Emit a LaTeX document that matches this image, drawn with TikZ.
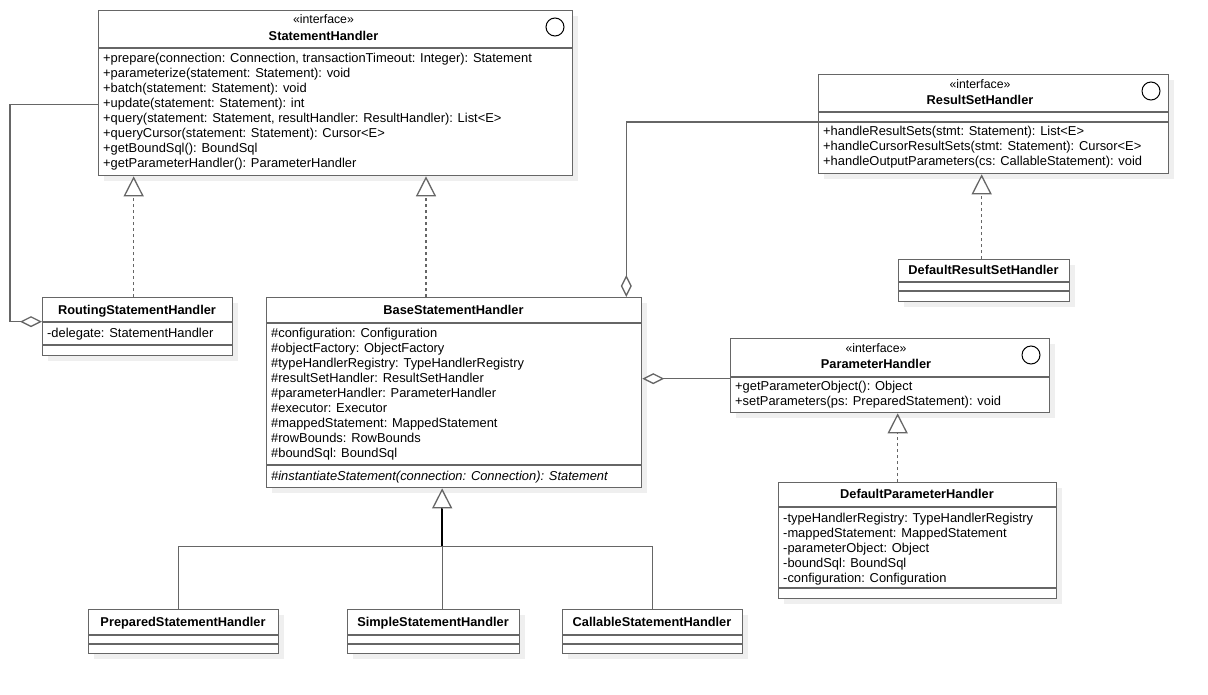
\documentclass[tikz,border=0pt]{standalone}
\usepackage{fontspec}
\setmainfont{Liberation Sans}
\usetikzlibrary{arrows.meta}
\definecolor{linec}{HTML}{666666}
\definecolor{shadowc}{HTML}{EFEFEF}
\tikzset{
  classbox/.style={draw=linec, fill=white, line width=1.3pt, inner sep=0, anchor=north west},
  sepline/.style={draw=linec, line width=1.3pt},
  txt/.style={inner sep=0, anchor=base west, font=\fontsize{12.9}{14}\selectfont},
  stereo/.style={inner sep=0, anchor=base, font=\fontsize{12.3}{13}\selectfont},
  cname/.style={inner sep=0, anchor=base, font=\bfseries\fontsize{12.8}{14}\selectfont},
  icon/.style={draw=black, circle, minimum size=18pt, inner sep=0, line width=1pt},
  realize/.style={draw=linec, line width=1.3pt, dash pattern=on 3pt off 3pt, -{Triangle[open, length=20pt, width=20pt, line width=1.3pt]}},
  aggr/.style={draw=linec, line width=1.3pt, -{Diamond[open, length=22pt, width=11pt, line width=1.3pt]}},
  inheritc/.style={draw=black, line width=2pt},
  inherittip/.style={draw=linec, line width=1.3pt, -{Triangle[open, length=20pt, width=20pt, line width=1.3pt]}},
  tree/.style={draw=linec, line width=1.3pt},
}
\newcommand\classbox[5]{%
  \fill[shadowc] (#2+6,#3+6) rectangle (#4+6,#5+6);
  \node[classbox, minimum width={(#4-#2)*1pt}, minimum height={(#5-#3)*1pt}] (#1) at (#2,#3) {};}
\newcommand\sepat[3]{\draw[sepline] (#1,#3) -- (#2,#3);}
\newcommand\textlines[4]{%
  \foreach \t [count=\i] in {#4} {\node[txt] (#1-\i) at (#2,{#3+(\i-1)*15}) {\t};}}
\begin{document}
\begin{tikzpicture}[x=1pt,y=-1pt]
\useasboundingbox (0,0) rectangle (1208,694);
\fill[white] (0,0) rectangle (1208,694);

% StatementHandler
\classbox{sh}{98}{10}{572}{175}
\sepat{98}{572}{48}
\node[stereo] (sh-st) at (323.5,23.5) {«interface»};
\node[cname] (sh-name) at (323.5,40) {StatementHandler};
\node[icon] (sh-icon) at (555,27) {};
\textlines{sh}{103}{62.5}{{+prepare(connection: Connection, transactionTimeout: Integer): Statement},{+parameterize(statement: Statement): void},{+batch(statement: Statement): void},{+update(statement: Statement): int},{+query(statement: Statement, resultHandler: ResultHandler): List<E>},{+queryCursor(statement: Statement): Cursor<E>},{+getBoundSql(): BoundSql},{+getParameterHandler(): ParameterHandler}}

% ResultSetHandler
\classbox{rsh}{818}{74}{1168}{173}
\sepat{818}{1168}{112}
\sepat{818}{1168}{122}
\node[stereo] (rsh-st) at (980,88) {«interface»};
\node[cname] (rsh-name) at (980,104.5) {ResultSetHandler};
\node[icon] (rsh-icon) at (1151,91) {};
\textlines{rsh}{823}{135.5}{{+handleResultSets(stmt: Statement): List<E>},{+handleCursorResultSets(stmt: Statement): Cursor<E>},{+handleOutputParameters(cs: CallableStatement): void}}

% RoutingStatementHandler
\classbox{routing}{42}{297}{232}{355}
\sepat{42}{232}{322}
\sepat{42}{232}{345}
\node[cname] (routing-name) at (137,314.5) {RoutingStatementHandler};
\textlines{routing}{47}{337.5}{{-delegate: StatementHandler}}

% BaseStatementHandler
\classbox{base}{266}{297}{641}{487}
\sepat{266}{641}{323}
\sepat{266}{641}{465}
\node[cname] (base-name) at (453.5,314.5) {BaseStatementHandler};
\textlines{base}{271}{337.5}{{\#configuration: Configuration},{\#objectFactory: ObjectFactory},{\#typeHandlerRegistry: TypeHandlerRegistry},{\#resultSetHandler: ResultSetHandler},{\#parameterHandler: ParameterHandler},{\#executor: Executor},{\#mappedStatement: MappedStatement},{\#rowBounds: RowBounds},{\#boundSql: BoundSql}}
\node[txt, font=\itshape\fontsize{12.9}{14}\selectfont] (base-m) at (271,480.5) {\#instantiateStatement(connection: Connection): Statement};

% ParameterHandler
\classbox{ph}{730}{338}{1049}{412}
\sepat{730}{1049}{377}
\node[stereo] (ph-st) at (876,352) {«interface»};
\node[cname] (ph-name) at (876,368) {ParameterHandler};
\node[icon] (ph-icon) at (1031,355) {};
\textlines{ph}{735}{390.5}{{+getParameterObject(): Object},{+setParameters(ps: PreparedStatement): void}}

% DefaultParameterHandler
\classbox{dph}{778}{482}{1056}{598}
\sepat{778}{1056}{507}
\sepat{778}{1056}{588}
\node[cname] (dph-name) at (917,498.5) {DefaultParameterHandler};
\textlines{dph}{783}{522.5}{{-typeHandlerRegistry: TypeHandlerRegistry},{-mappedStatement: MappedStatement},{-parameterObject: Object},{-boundSql: BoundSql},{-configuration: Configuration}}

% DefaultResultSetHandler
\classbox{drsh}{898}{259}{1069}{301}
\sepat{898}{1069}{282}
\sepat{898}{1069}{291}
\node[cname] (drsh-name) at (983.5,274.5) {DefaultResultSetHandler};

% Subclasses
\classbox{prep}{88}{609}{278}{653}
\sepat{88}{278}{635}
\sepat{88}{278}{644}
\node[cname] (prep-name) at (183,626.5) {PreparedStatementHandler};
\classbox{simple}{347}{609}{519}{653}
\sepat{347}{519}{635}
\sepat{347}{519}{644}
\node[cname] (simple-name) at (433,626.5) {SimpleStatementHandler};
\classbox{callable}{562}{609}{742}{653}
\sepat{562}{742}{635}
\sepat{562}{742}{644}
\node[cname] (callable-name) at (652,626.5) {CallableStatementHandler};

% Connectors
\coordinate (routing-top) at ([xshift=-4pt]routing.north);
\draw[realize] (routing-top) -- (routing-top |- sh.south);
\coordinate (base-top1) at ([xshift=160pt]base.north west);
\draw[realize] (base-top1) -- (base-top1 |- sh.south);

\coordinate (routing-in) at ([yshift=5pt]routing.west);
\coordinate (sh-out) at (sh.west |- sh-4);
\coordinate (sh-left) at ([xshift=-88pt]sh-out);
\draw[aggr] (sh-out) -- (sh-left) |- (routing-in);

\coordinate (rsh-in) at ([yshift=-48pt]rsh.north west);
\coordinate (base-top2) at ([xshift=-16pt]base.north east);
\draw[aggr] (rsh-in) -| (base-top2);

\coordinate (ph-in) at ([yshift=-3pt]ph.west);
\draw[aggr] (ph-in) -- (ph-in -| base.east);

\coordinate (drsh-top) at ([xshift=-2.5pt]drsh.north);
\draw[realize] (drsh-top) -- (drsh-top |- rsh.south);
\coordinate (dph-top) at ([xshift=-20pt]dph.north);
\draw[realize] (dph-top) -- (dph-top |- ph.south);

\coordinate (base-bot) at ([xshift=-12pt]base.south);
\coordinate (junc) at ([yshift=-58pt]base-bot);
\coordinate (tri-base) at ([yshift=-20pt]base-bot);
\draw[inheritc] (junc) -- (tri-base);
\draw[inherittip] (tri-base) -- (base-bot);
\coordinate (prep-top) at ([xshift=-5pt]prep.north);
\draw[tree] (prep-top) |- (callable.north |- junc) -- (callable.north);
\draw[tree] (junc) -- (junc |- simple.north);
\end{tikzpicture}
\end{document}
